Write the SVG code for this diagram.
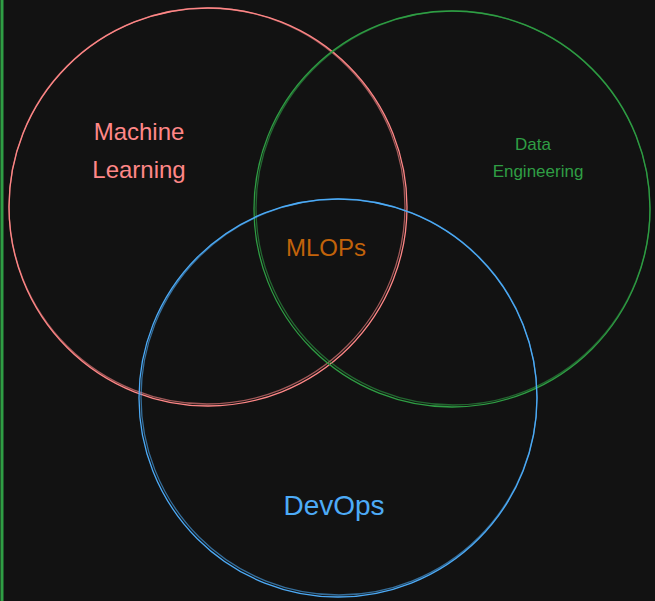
<svg xmlns="http://www.w3.org/2000/svg" width="655" height="601" viewBox="0 0 655 601">
<style>
.c{fill:none;stroke-width:1.3}
.t{font-family:"Liberation Sans",Arial,sans-serif;text-anchor:middle}
</style>
<rect width="655" height="601" fill="#121212"/>
<line x1="2" y1="0" x2="2" y2="601" stroke="#2f9e44" stroke-width="3"/>
<g id="ml">
<circle class="c" cx="208" cy="207" r="199" stroke="#ff8787"/>
<circle class="c" cx="207" cy="206" r="198" stroke="#ff8787" opacity="0.6"/>
<text class="t" x="139" y="140" font-size="24" fill="#ff8787">Machine</text>
<text class="t" x="139" y="178" font-size="24" fill="#ff8787">Learning</text>
</g>
<g id="de">
<circle class="c" cx="452" cy="209" r="198" stroke="#2f9e44"/>
<circle class="c" cx="453" cy="208" r="197" stroke="#2f9e44" opacity="0.6"/>
<text class="t" x="533" y="150" font-size="17" fill="#2f9e44">Data</text>
<text class="t" x="538" y="177" font-size="17" fill="#2f9e44">Engineering</text>
</g>
<g id="devops">
<circle class="c" cx="338" cy="398" r="199" stroke="#4dabf7"/>
<circle class="c" cx="339" cy="397" r="198" stroke="#4dabf7" opacity="0.6"/>
<text class="t" x="334" y="515" font-size="28" fill="#4dabf7">DevOps</text>
</g>
<g id="mlops">
<text class="t" x="326" y="256" font-size="24" fill="#c2630a">MLOPs</text>
</g>
<g id="connectors"/>
</svg>
